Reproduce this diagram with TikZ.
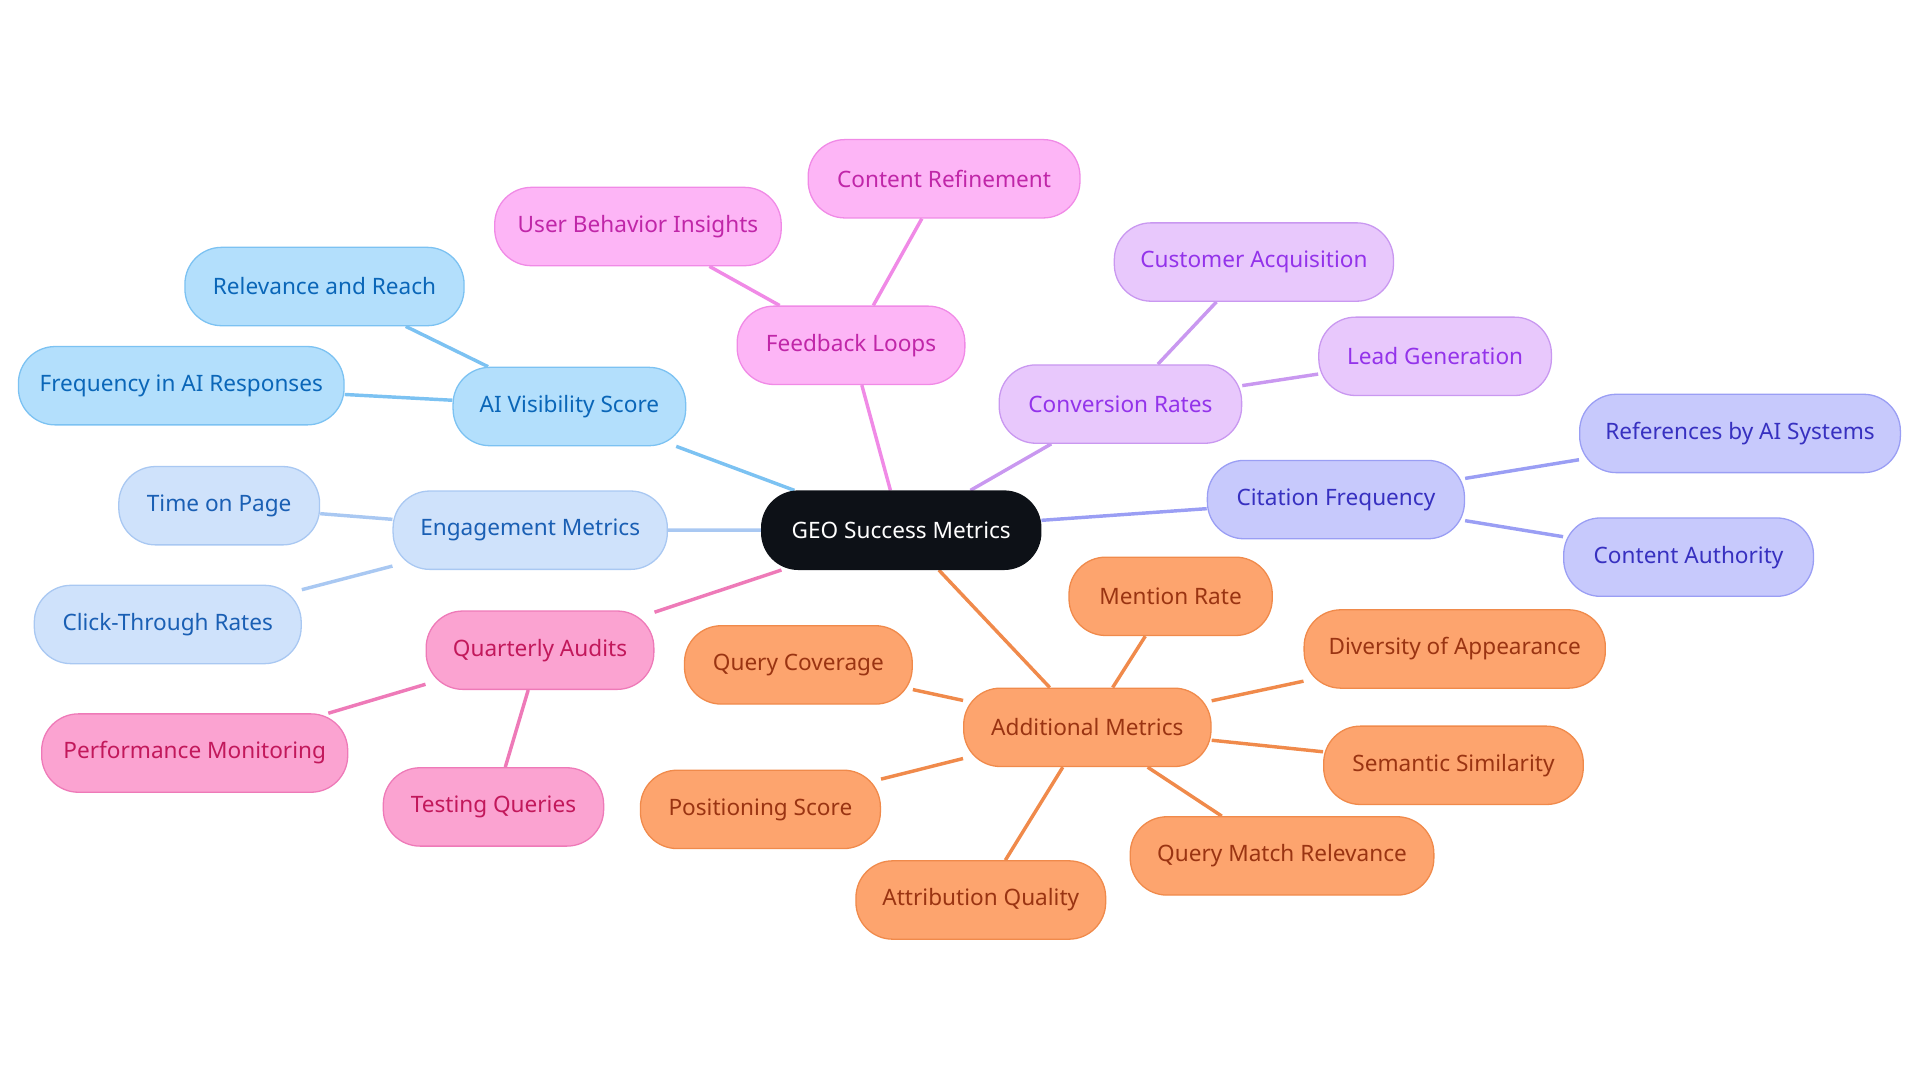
\documentclass[tikz,border=0pt]{standalone}
\usepackage{fontspec}
\setmainfont{Noto Sans}
\usetikzlibrary{backgrounds}
\definecolor{skyF}{HTML}{B3DFFC}\definecolor{skyD}{HTML}{7CC2F2}\definecolor{skyT}{HTML}{0A66B8}
\definecolor{engF}{HTML}{CFE2FB}\definecolor{engD}{HTML}{A9C8F2}\definecolor{engT}{HTML}{1A5FB4}
\definecolor{pnkF}{HTML}{FDB5F6}\definecolor{pnkD}{HTML}{F08AE6}\definecolor{pnkT}{HTML}{C026A8}
\definecolor{purF}{HTML}{E8C8FC}\definecolor{purD}{HTML}{C998F0}\definecolor{purT}{HTML}{9333EA}
\definecolor{indF}{HTML}{C7C9FC}\definecolor{indD}{HTML}{9A9EF4}\definecolor{indT}{HTML}{3730C0}
\definecolor{rosF}{HTML}{FBA3D1}\definecolor{rosD}{HTML}{EE7AB8}\definecolor{rosT}{HTML}{C2185B}
\definecolor{orgF}{HTML}{FDA46E}\definecolor{orgD}{HTML}{F08A4B}\definecolor{orgT}{HTML}{9A3412}
\definecolor{ctrF}{HTML}{0D1117}
\tikzset{
 x=0.02cm,y=-0.02cm,
 base/.style={rounded corners=0.6cm,minimum height=1.28cm,inner sep=0pt,font=\fontsize{10.5}{12}\selectfont,line width=0.6pt},
 sky/.style={base,fill=skyF,draw=skyD,text=skyT},
 eng/.style={base,fill=engF,draw=engD,text=engT},
 pnk/.style={base,fill=pnkF,draw=pnkD,text=pnkT},
 pur/.style={base,fill=purF,draw=purD,text=purT},
 ind/.style={base,fill=indF,draw=indD,text=indT},
 ros/.style={base,fill=rosF,draw=rosD,text=rosT},
 org/.style={base,fill=orgF,draw=orgD,text=orgT},
 ctr/.style={base,fill=ctrF,draw=ctrF,text=white},
 e/.style={line width=1.6pt},
}
\begin{document}
\begin{tikzpicture}
\useasboundingbox (0,0) rectangle (1568,884);
\node[ctr,minimum width=4.56cm] (c) at (736,433) {GEO Success Metrics};
\node[sky,minimum width=3.8cm] (ai) at (465,332) {AI Visibility Score};
\node[sky,minimum width=4.56cm] (rr) at (265,234) {Relevance and Reach};
\node[sky,minimum width=5.32cm] (fr) at (148,315) {Frequency in AI Responses};
\node[eng,minimum width=4.48cm] (em) at (433,433) {Engagement Metrics};
\node[eng,minimum width=3.28cm] (tp) at (179,413) {Time on Page};
\node[eng,minimum width=4.36cm] (ct) at (137,510) {Click-Through Rates};
\node[pnk,minimum width=3.72cm] (fl) at (695,282) {Feedback Loops};
\node[pnk,minimum width=4.68cm] (ub) at (521,185) {User Behavior Insights};
\node[pnk,minimum width=4.44cm] (cr) at (771,146) {Content Refinement};
\node[pur,minimum width=3.96cm] (cv) at (915,330) {Conversion Rates};
\node[pur,minimum width=4.56cm] (ca) at (1024,214) {Customer Acquisition};
\node[pur,minimum width=3.8cm] (lg) at (1172,291) {Lead Generation};
\node[ind,minimum width=4.2cm] (cf) at (1091,408) {Citation Frequency};
\node[ind,minimum width=5.24cm] (rs) at (1421,354) {References by AI Systems};
\node[ind,minimum width=4.08cm] (cau) at (1379,455) {Content Authority};
\node[ros,minimum width=3.72cm] (qa) at (441,531) {Quarterly Audits};
\node[ros,minimum width=5.0cm] (pm) at (159,615) {Performance Monitoring};
\node[ros,minimum width=3.6cm] (tq) at (403,659) {Testing Queries};
\node[org,minimum width=4.04cm] (am) at (888,594) {Additional Metrics};
\node[org,minimum width=3.32cm] (mr) at (956,487) {Mention Rate};
\node[org,minimum width=3.72cm] (qc) at (652,543) {Query Coverage};
\node[org,minimum width=4.92cm] (da) at (1188,530) {Diversity of Appearance};
\node[org,minimum width=4.24cm] (ss) at (1187,625) {Semantic Similarity};
\node[org,minimum width=3.92cm] (ps) at (621,661) {Positioning Score};
\node[org,minimum width=4.96cm] (qm) at (1047,699) {Query Match Relevance};
\node[org,minimum width=4.08cm] (aq) at (801,735) {Attribution Quality};
\begin{scope}[on background layer]
\draw[e,skyD] (c)--(ai) (ai)--(rr) (ai)--(fr);
\draw[e,engD] (c)--(em) (em)--(tp) (em)--(ct);
\draw[e,pnkD] (c)--(fl) (fl)--(ub) (fl)--(cr);
\draw[e,purD] (c)--(cv) (cv)--(ca) (cv)--(lg);
\draw[e,indD] (c)--(cf) (cf)--(rs) (cf)--(cau);
\draw[e,rosD] (c)--(qa) (qa)--(pm) (qa)--(tq);
\draw[e,orgD] (c)--(am) (am)--(mr) (am)--(qc) (am)--(da) (am)--(ss) (am)--(ps) (am)--(qm) (am)--(aq);
\end{scope}
\end{tikzpicture}
\end{document}
